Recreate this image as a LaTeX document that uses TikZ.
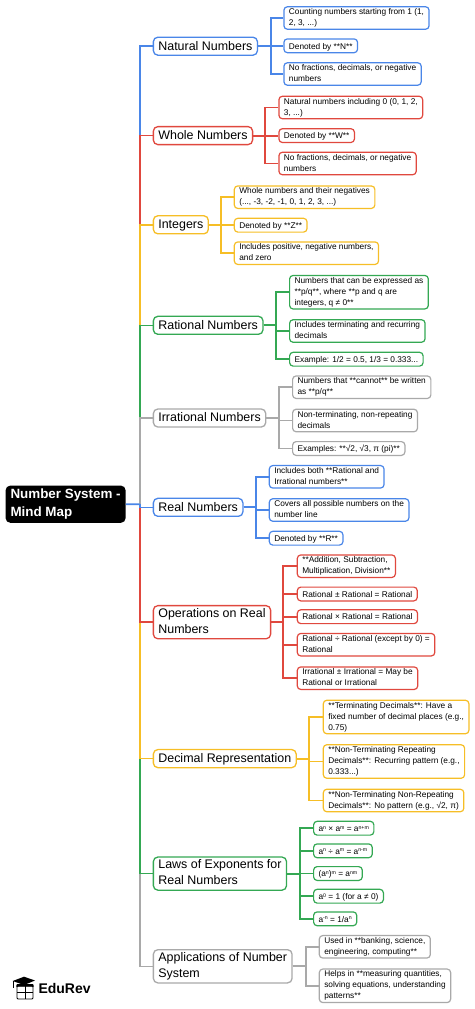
\documentclass[tikz,border=0pt]{standalone}
\usepackage{fontspec}
\setmainfont{Liberation Sans}
\usepackage{xcolor}
\definecolor{mapblue}{HTML}{4A86E8}
\definecolor{mapred}{HTML}{E0483E}
\definecolor{mapyellow}{HTML}{F6BE26}
\definecolor{mapgreen}{HTML}{34A853}
\definecolor{mapgray}{HTML}{A9A9A9}
\newcommand{\sups}[1]{\raisebox{2.4pt}{\fontsize{5.2}{5.2}\selectfont #1}}

\begin{document}
\begin{tikzpicture}[x=1pt,y=-1pt,
  rootnode/.style={fill=black,text=white,rounded corners=5pt,align=left,anchor=west,
                   font=\fontsize{13.4}{17.7}\selectfont\bfseries,inner xsep=5pt,inner ysep=3.6pt,
                   execute at begin node={\rule{0pt}{12.1pt}},execute at end node={\rule[-1.1pt]{0pt}{0pt}}},
  topic/.style={draw=#1,line width=1.3pt,fill=white,rounded corners=4.5pt,align=left,anchor=west,
                font=\fontsize{12.45}{16.2}\selectfont,inner xsep=5pt,inner ysep=2.7pt,
                execute at begin node={\rule{0pt}{10.1pt}},execute at end node={\rule[-2.5pt]{0pt}{0pt}}},
  leaf/.style={draw=#1,line width=1.2pt,fill=white,rounded corners=3.5pt,align=left,anchor=west,
               font=\fontsize{8.3}{11}\selectfont,inner xsep=5pt,inner ysep=1.8pt,
               execute at begin node={\rule{0pt}{8.3pt}},execute at end node={\rule[-1.9pt]{0pt}{0pt}}},
  trunkline/.style={draw=#1,line width=1.6pt},
  busline/.style={draw=#1,line width=1.8pt}]
\useasboundingbox (0,0) rectangle (474,1009);

\coordinate (trunk) at (140,504.3);

% trunk, drawn far to near so that the nearer colour stays on top
\coordinate (natural-in) at (152.7,46.2);
\coordinate (whole-in) at (152.7,135.6);
\coordinate (integers-in) at (152.7,224.8);
\coordinate (rational-in) at (152.7,325.3);
\coordinate (irrational-in) at (152.7,418);
\coordinate (real-in) at (152.7,507.3);
\coordinate (operations-in) at (152.7,622.2);
\coordinate (decimal-in) at (152.7,758.6);
\coordinate (laws-in) at (152.7,873.6);
\coordinate (apps-in) at (152.7,966.3);
\draw[trunkline=mapblue] (trunk) |- (natural-in);
\draw[trunkline=mapred] (trunk) |- (whole-in);
\draw[trunkline=mapyellow] (trunk) |- (integers-in);
\draw[trunkline=mapgreen] (trunk) |- (rational-in);
\draw[trunkline=mapgray] (trunk) |- (irrational-in);
\draw[trunkline=mapgray] (trunk) |- (apps-in);
\draw[trunkline=mapgreen] (trunk) |- (laws-in);
\draw[trunkline=mapyellow] (trunk) |- (decimal-in);
\draw[trunkline=mapred] (trunk) |- (operations-in);
\draw[trunkline=mapblue] (trunk) |- (real-in);

% root and topics
\node[rootnode] (root) at (5.3,504.2) {Number System -\\Mind Map};
\draw[trunkline=mapblue] (root.east) -- (trunk);
\node[topic=mapblue] (natural) at (natural-in) {Natural Numbers};
\node[topic=mapred] (whole) at (whole-in) {Whole Numbers};
\node[topic=mapyellow] (integers) at (integers-in) {Integers};
\node[topic=mapgreen] (rational) at (rational-in) {Rational Numbers};
\node[topic=mapgray] (irrational) at (irrational-in) {Irrational Numbers};
\node[topic=mapblue] (real) at (real-in) {Real Numbers};
\node[topic=mapred] (operations) at (operations-in) {Operations on Real\\Numbers};
\node[topic=mapyellow] (decimal) at (decimal-in) {Decimal Representation};
\node[topic=mapgreen] (laws) at (laws-in) {Laws of Exponents for\\Real Numbers};
\node[topic=mapgray] (apps) at (apps-in) {Applications of Number\\System};

% natural numbers
\node[leaf=mapblue] (natA) at (283.3,18) {Counting numbers starting from 1 (1,\\2, 3, ...)};
\node[leaf=mapblue] (natB) at (283.3,45.8) {Denoted by **N**};
\node[leaf=mapblue] (natC) at (283.3,74) {No fractions, decimals, or negative\\numbers};
% whole numbers
\node[leaf=mapred] (wholeA) at (278.3,107.5) {Natural numbers including 0 (0, 1, 2,\\3, ...)};
\node[leaf=mapred] (wholeB) at (278.3,135.6) {Denoted by **W**};
\node[leaf=mapred] (wholeC) at (278.3,163.5) {No fractions, decimals, or negative\\numbers};
% integers
\node[leaf=mapyellow] (intA) at (233.7,197.2) {Whole numbers and their negatives\\(..., -3, -2, -1, 0, 1, 2, 3, ...)};
\node[leaf=mapyellow] (intB) at (233.7,225.2) {Denoted by **Z**};
\node[leaf=mapyellow] (intC) at (233.7,253.2) {Includes positive, negative numbers,\\and zero};
% rational numbers
\node[leaf=mapgreen] (ratA) at (289,292.2) {Numbers that can be expressed as\\**p/q**, where **p and q are\\integers, q ≠ 0**};
\node[leaf=mapgreen] (ratB) at (289,331) {Includes terminating and recurring\\decimals};
\node[leaf=mapgreen] (ratC) at (289,359.2) {Example: 1/2 = 0.5, 1/3 = 0.333...};
% irrational numbers
\node[leaf=mapgray] (irrA) at (292,387.2) {Numbers that **cannot** be written\\as **p/q**};
\node[leaf=mapgray] (irrB) at (292,420.5) {Non-terminating, non-repeating\\decimals};
\node[leaf=mapgray] (irrC) at (292,448.5) {Examples: **√2, √3, π (pi)**};
% real numbers
\node[leaf=mapblue] (realA) at (268.7,476.8) {Includes both **Rational and\\Irrational numbers**};
\node[leaf=mapblue] (realB) at (268.7,510) {Covers all possible numbers on the\\number line};
\node[leaf=mapblue] (realC) at (268.7,538.2) {Denoted by **R**};
% operations
\node[leaf=mapred] (opA) at (296.7,566.2) {**Addition, Subtraction,\\Multiplication, Division**};
\node[leaf=mapred] (opB) at (296.7,594) {Rational ± Rational = Rational};
\node[leaf=mapred] (opC) at (296.7,616.7) {Rational × Rational = Rational};
\node[leaf=mapred] (opD) at (296.7,644.7) {Rational ÷ Rational (except by 0) =\\Rational};
\node[leaf=mapred] (opE) at (296.7,678.2) {Irrational ± Irrational = May be\\Rational or Irrational};
% decimal representation
\node[leaf=mapyellow] (decA) at (322.7,717) {**Terminating Decimals**: Have a\\fixed number of decimal places (e.g.,\\0.75)};
\node[leaf=mapyellow] (decB) at (322.7,761.5) {**Non-Terminating Repeating\\Decimals**: Recurring pattern (e.g.,\\0.333...)};
\node[leaf=mapyellow] (decC) at (322.7,800.5) {**Non-Terminating Non-Repeating\\Decimals**: No pattern (e.g., √2, π)};
% laws of exponents
\node[leaf=mapgreen] (lawA) at (313,828.2) {a\sups{n} × a\sups{m} = a\sups{n+m}};
\node[leaf=mapgreen] (lawB) at (313,850.8) {a\sups{n} ÷ a\sups{m} = a\sups{n-m}};
\node[leaf=mapgreen] (lawC) at (313,873.5) {(a\sups{n})\sups{m} = a\sups{nm}};
\node[leaf=mapgreen] (lawD) at (313,896.2) {a\sups{0} = 1 (for a ≠ 0)};
\node[leaf=mapgreen] (lawE) at (313,918.8) {a\sups{-n} = 1/a\sups{n}};
% applications
\node[leaf=mapgray] (appA) at (318.7,946.8) {Used in **banking, science,\\engineering, computing**};
\node[leaf=mapgray] (appB) at (318.7,985.8) {Helps in **measuring quantities,\\solving equations, understanding\\patterns**};

% branches
\foreach \from/\busx/\col/\kids in {natural/270.7/mapblue/{natA,natB,natC},
    whole/265.3/mapred/{wholeA,wholeB,wholeC},
    integers/220.7/mapyellow/{intA,intB,intC},
    rational/275.7/mapgreen/{ratA,ratB,ratC},
    irrational/278.7/mapgray/{irrA,irrB,irrC},
    real/255.7/mapblue/{realA,realB,realC},
    operations/283.3/mapred/{opA,opB,opC,opD,opE},
    decimal/309/mapyellow/{decA,decB,decC},
    laws/300/mapgreen/{lawA,lawB,lawC,lawD,lawE},
    apps/305.7/mapgray/{appA,appB}}{
  \foreach \kid in \kids
    \draw[busline=\col] (\from.east) -- (\busx,0 |- \from.east) |- (\kid.west);
}

% logo
\draw[line width=0.9pt,rounded corners=1pt] (17,986) rectangle (33,999);
\draw[line width=0.8pt] (17,992.5) -- (33,992.5) (25,986) -- (25,999);
\fill (16,986.5) -- (17,984) -- (33,984) -- (34,986.5) -- cycle;
\fill (12.7,981) -- (24,976.7) -- (35,980.5) -- (24,985) -- cycle;
\draw[line width=0.7pt] (13.5,981) -- (13.5,988);
\node[font=\fontsize{14}{16}\selectfont\bfseries,anchor=base west,inner sep=0pt] (logotext) at (38.3,993.7) {EduRev};
\end{tikzpicture}
\end{document}
